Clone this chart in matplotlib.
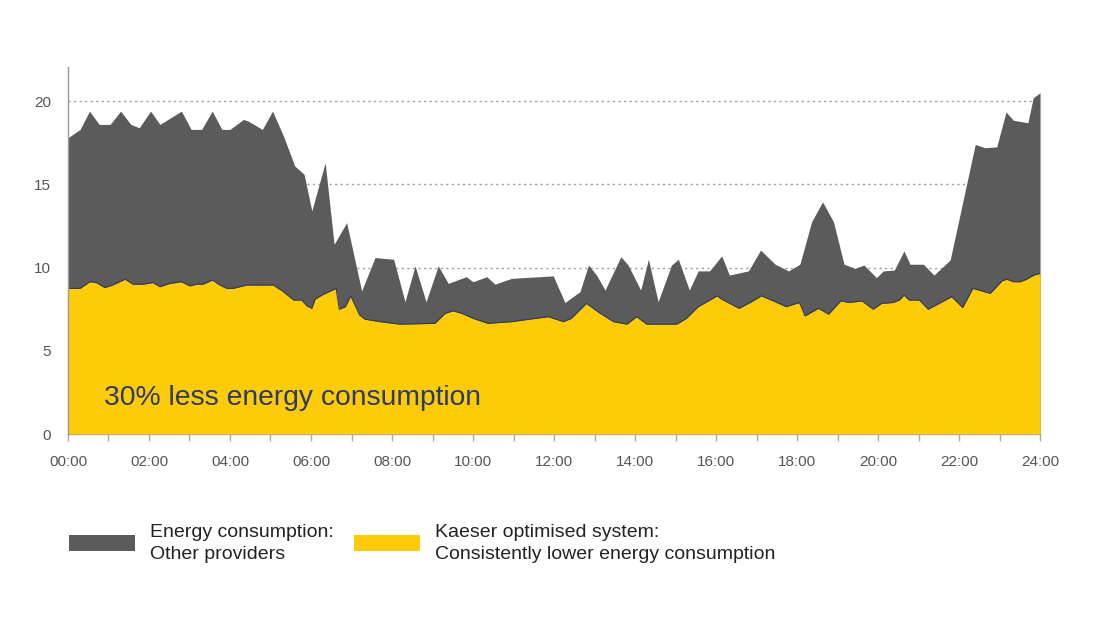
import matplotlib
matplotlib.use("Agg")
from matplotlib import pyplot as plt
from matplotlib.patches import Patch

plt.rcParams['font.family'] = ['Liberation Sans', 'DejaVu Sans']

# hours of the day / consumption of other providers
other_hours = [0, 0.3, 0.53, 0.77, 1.04, 1.3, 1.55, 1.76, 2.04, 2.27, 2.8, 3.04,
               3.3, 3.56, 3.8, 4.0, 4.33, 4.45, 4.8, 5.05, 5.32, 5.6, 5.83, 6.02,
               6.35, 6.57, 6.88, 7.25, 7.58, 8.04, 8.32, 8.57, 8.84, 9.14, 9.39,
               9.83, 10.0, 10.34, 10.54, 10.95, 11.98, 12.27, 12.64, 12.85, 13.05,
               13.26, 13.65, 13.83, 14.14, 14.33, 14.57, 14.9, 15.07, 15.34, 15.56,
               15.84, 16.14, 16.33, 16.8, 17.1, 17.46, 17.79, 18.07, 18.36, 18.63,
               18.9, 19.16, 19.43, 19.65, 19.96, 20.13, 20.4, 20.64, 20.79, 21.12,
               21.38, 21.78, 22.4, 22.64, 22.93, 23.16, 23.34, 23.7, 23.83, 24.0]
other_values = [17.8, 18.3, 19.4, 18.6, 18.6, 19.4, 18.6, 18.4, 19.4, 18.6, 19.4, 18.3,
                18.3, 19.4, 18.3, 18.3, 18.9, 18.8, 18.3, 19.4, 17.9, 16.1, 15.6, 13.4,
                16.3, 11.4, 12.7, 8.6, 10.6, 10.5, 7.95, 10.1, 7.95, 10.1, 9.05,
                9.45, 9.15, 9.45, 9.0, 9.35, 9.5, 7.9, 8.55, 10.15, 9.55,
                8.65, 10.65, 10.15, 8.65, 10.5, 7.95, 10.15, 10.5, 8.65, 9.8,
                9.8, 10.7, 9.55, 9.8, 11.05, 10.2, 9.8, 10.2, 12.75, 13.95,
                12.75, 10.2, 9.95, 10.15, 9.4, 9.8, 9.85, 11.0, 10.2, 10.2,
                9.55, 10.45, 17.4, 17.2, 17.25, 19.35, 18.85, 18.7, 20.2, 20.5]

# hours of the day / consumption of the Kaeser system
kaeser_hours = [0, 0.3, 0.54, 0.7, 0.91, 1.1, 1.41, 1.61, 1.86, 2.1, 2.27, 2.52,
                2.8, 3.01, 3.17, 3.33, 3.57, 3.75, 3.92, 4.08, 4.41, 4.74, 5.07,
                5.32, 5.57, 5.77, 5.9, 6.02, 6.1, 6.27, 6.62, 6.7, 6.85, 6.98, 7.2,
                7.33, 7.7, 8.2, 9.06, 9.31, 9.51, 9.72, 10.0, 10.37, 10.95, 11.4,
                11.86, 12.23, 12.43, 12.8, 13.14, 13.47, 13.8, 14.04, 14.29, 15.03,
                15.27, 15.56, 16.03, 16.14, 16.57, 16.88, 17.12, 17.46, 17.73,
                18.06, 18.2, 18.53, 18.78, 19.08, 19.3, 19.6, 19.88, 20.09, 20.37,
                20.53, 20.64, 20.77, 21.02, 21.24, 21.82, 22.09, 22.34, 22.77,
                23.06, 23.18, 23.34, 23.51, 23.67, 23.85, 24.0]
kaeser_values = [8.75, 8.75, 9.15, 9.1, 8.8, 8.95, 9.3, 9.0, 9.0, 9.1, 8.85, 9.05,
                 9.15, 8.9, 9.0, 9.0, 9.25, 8.95, 8.75, 8.75, 8.95, 8.95, 8.95,
                 8.55, 8.05, 8.05, 7.7, 7.55, 8.1, 8.35, 8.75, 7.5, 7.65, 8.3, 7.15,
                 6.9, 6.75, 6.6, 6.65, 7.25, 7.4, 7.25, 6.95, 6.65, 6.75, 6.9,
                 7.05, 6.75, 6.95, 7.85, 7.25, 6.75, 6.6, 7.05, 6.6, 6.6,
                 6.95, 7.65, 8.3, 8.1, 7.55, 7.95, 8.3, 7.95, 7.65,
                 7.9, 7.1, 7.55, 7.2, 8.0, 7.9, 8.0, 7.5, 7.85, 7.9,
                 8.05, 8.35, 8.05, 8.05, 7.5, 8.25, 7.6, 8.75, 8.45,
                 9.2, 9.3, 9.15, 9.15, 9.3, 9.55, 9.65]

yticks = [0, 5, 10, 15, 20]
xtick_hours = list(range(0, 25, 2))
xtick_labels = ["%02d:00" % h for h in xtick_hours]

gray = "#5b5b5b"
yellow = "#fdcb08"
navy = "#2d3a68"
label_gray = "#555555"

fig = plt.figure(figsize=(11, 6.25), dpi=100)
ax = fig.add_axes([0.0618, 0.3056, 0.8837, 0.5872])

ax.fill_between(other_hours, 0, other_values, color=gray, linewidth=0, zorder=2)
ax.fill_between(kaeser_hours, 0, kaeser_values, color=yellow, linewidth=0, zorder=3)
ax.plot(kaeser_hours, kaeser_values, color=navy, linewidth=0.8, zorder=4)

for y in yticks[1:]:
    ax.axhline(y, color="#9a9a9a", linewidth=1, linestyle=(0, (1.5, 2.5)), zorder=1)

ax.set_xlim(0, 24)
ax.set_ylim(0, 22.05)

ax.set_yticks(yticks)
ax.set_xticks(range(25), minor=True)
ax.set_xticks(xtick_hours)
ax.set_xticklabels(xtick_labels)
ax.tick_params(axis="y", length=0, pad=12, labelsize=11, labelcolor=label_gray)
ax.tick_params(axis="x", which="both", length=5, width=1, color="#aaaaaa",
               direction="out", labelsize=11, labelcolor=label_gray, pad=10)

for side in ["top", "right"]:
    ax.spines[side].set_visible(False)
for side in ["left", "bottom"]:
    ax.spines[side].set_color("#9a9a9a")
    ax.spines[side].set_linewidth(1)
ax.spines["left"].set_zorder(5)

ax.text(0.89, 1.74, "30% less energy consumption", fontsize=20.3, color=navy,
        ha="left", va="baseline", zorder=6)

handles = [Patch(facecolor=gray, edgecolor="none"),
           Patch(facecolor=yellow, edgecolor="none")]
labels = ["Energy consumption:\nOther providers",
          "Kaeser optimised system:\nConsistently lower energy consumption"]
leg = fig.legend(handles, labels, loc="upper left", bbox_to_anchor=(0.047, 0.19),
                 ncol=2, frameon=False, fontsize=14, labelcolor="#222222",
                 handlelength=3.4, handleheight=0.9, handletextpad=0.78,
                 columnspacing=1.0, labelspacing=0.15)
for t in leg.get_texts():
    t.set_linespacing(1.4)

fig.savefig("out.png", dpi=100)
